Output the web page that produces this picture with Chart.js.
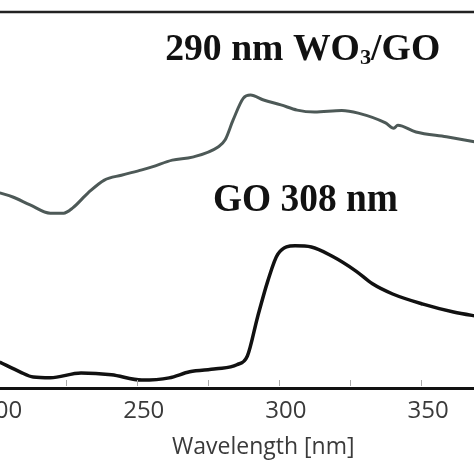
<!DOCTYPE html>
<html>
<head>
<meta charset="utf-8">
<script src="https://cdn.jsdelivr.net/npm/chart.js@4.4.1/dist/chart.umd.min.js"></script>
<style>
  html, body { margin: 0; padding: 0; background: #fff; overflow: hidden; width: 474px; height: 474px; }
  #wrap { position: absolute; left: -35px; top: 0; width: 572px; height: 474px; }
</style>
</head>
<body>
<div id="wrap"><canvas id="spectra"></canvas></div>
<script>
// WO3/GO absorption (grey curve)
const woGoWavelength = [201.8, 206.4, 212.5, 219.6, 224.3, 227.5, 232.9, 238.6, 244.6, 251.8, 255.4, 262.5, 269.6, 278.6, 281.1, 283.9, 287.5, 290.0, 294.6, 300.7, 306.4, 312.5, 322.1, 327.9, 337.5, 340.4, 341.8, 348.2, 358.9, 370.7];
const woGoAbs = [0.519, 0.508, 0.487, 0.465, 0.465, 0.479, 0.519, 0.553, 0.566, 0.580, 0.588, 0.606, 0.614, 0.641, 0.660, 0.713, 0.771, 0.779, 0.766, 0.753, 0.739, 0.734, 0.738, 0.731, 0.705, 0.691, 0.699, 0.681, 0.668, 0.652];

// GO absorption (black curve)
const goWavelength = [201.8, 208.9, 213.6, 219.6, 230.4, 241.1, 251.8, 261.4, 268.6, 277.9, 285.2, 288.9, 292.5, 296.1, 299.6, 305.7, 311.4, 318.6, 327.1, 332.9, 340.0, 350.7, 361.4, 371.1];
const goAbs = [0.069, 0.043, 0.029, 0.027, 0.040, 0.035, 0.021, 0.027, 0.043, 0.051, 0.062, 0.085, 0.189, 0.285, 0.356, 0.378, 0.375, 0.351, 0.311, 0.277, 0.250, 0.223, 0.202, 0.189];

const xTickLabels = [200, 250, 300, 350];

// peak labels: anchored at (wavelength, absorbance) of the text's left baseline
const peakLabels = [
  { parts: [["290 nm WO", 37, 0], ["3", 22, 4], ["/GO", 37, 0]], x: 260, y: 0.872, width: 275 },
  { parts: [["GO 308 nm", 39, 0]], x: 276.8, y: 0.471, width: 185 }
];

const toPoints = (xs, ys) => xs.map((x, i) => ({ x: x, y: ys[i] }));

const framePlugin = {
  id: "frame",
  afterDraw(chart) {
    const ctx = chart.ctx;
    const area = chart.chartArea;
    const xs = chart.scales.x;
    const ys = chart.scales.y;
    ctx.save();
    // top frame line
    ctx.strokeStyle = "#222";
    ctx.lineWidth = 2.5;
    ctx.beginPath();
    ctx.moveTo(0, area.top);
    ctx.lineTo(chart.width, area.top);
    ctx.stroke();
    // small inward tick marks
    ctx.strokeStyle = "#aaa";
    ctx.lineWidth = 1;
    xs.ticks.forEach((t) => {
      const px = Math.round(xs.getPixelForValue(t.value)) + 0.5;
      ctx.beginPath();
      ctx.moveTo(px, area.bottom - 2);
      ctx.lineTo(px, area.bottom - 8);
      ctx.stroke();
    });
    // peak labels
    ctx.fillStyle = "#111";
    ctx.textBaseline = "alphabetic";
    peakLabels.forEach((lab) => {
      let natural = 0;
      lab.parts.forEach((p) => {
        ctx.font = "bold " + p[1] + "px 'Liberation Serif', 'Times New Roman', serif";
        natural += ctx.measureText(p[0]).width;
      });
      const px = xs.getPixelForValue(lab.x);
      const py = ys.getPixelForValue(lab.y);
      ctx.save();
      ctx.translate(px, py);
      ctx.scale(lab.width / natural, 1);
      let cx = 0;
      lab.parts.forEach((p) => {
        ctx.font = "bold " + p[1] + "px 'Liberation Serif', 'Times New Roman', serif";
        ctx.fillText(p[0], cx, p[2]);
        cx += ctx.measureText(p[0]).width;
      });
      ctx.restore();
    });
    ctx.restore();
  }
};

new Chart(document.getElementById("spectra").getContext("2d"), {
  type: "line",
  data: {
    datasets: [
      {
        label: "WO3/GO",
        data: toPoints(woGoWavelength, woGoAbs),
        borderColor: "#4d5957",
        borderWidth: 3,
        pointRadius: 0,
        cubicInterpolationMode: "monotone",
        fill: false
      },
      {
        label: "GO",
        data: toPoints(goWavelength, goAbs),
        borderColor: "#111",
        borderWidth: 3.5,
        pointRadius: 0,
        cubicInterpolationMode: "monotone",
        fill: false
      }
    ]
  },
  options: {
    responsive: true,
    maintainAspectRatio: false,
    animation: false,
    layout: { padding: { left: 25, right: 5, top: 12, bottom: 0 } },
    plugins: { legend: { display: false }, tooltip: { enabled: false } },
    scales: {
      x: {
        type: "linear",
        min: 200,
        max: 389,
        afterFit(scale) { scale.height = 86; },
        border: { display: true, color: "#111", width: 3 },
        grid: { display: true, drawOnChartArea: false, drawTicks: false },
        ticks: {
          stepSize: 25,
          includeBounds: false,
          autoSkip: false,
          maxRotation: 0,
          padding: 9,
          labelOffset: 7,
          color: "#3a3a3a",
          font: { family: "Open Sans", size: 24 },
          callback: (v) => (xTickLabels.includes(v) ? v : "")
        },
        title: {
          display: true,
          text: "Wavelength [nm]",
          color: "#3a3a3a",
          font: { family: "Open Sans", size: 23 },
          padding: { top: 0, bottom: 13 }
        }
      },
      y: { display: false, min: 0, max: 1 }
    }
  },
  plugins: [framePlugin]
});
</script>
</body>
</html>
